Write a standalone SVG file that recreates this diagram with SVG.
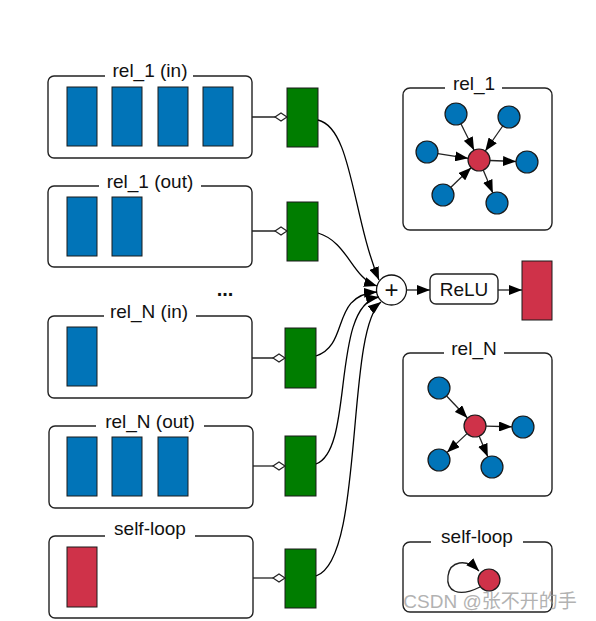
<svg xmlns="http://www.w3.org/2000/svg" width="596" height="621" viewBox="0 0 596 621">
<defs>
<marker id="arr" markerUnits="userSpaceOnUse" markerWidth="13" markerHeight="10" refX="13" refY="5" orient="auto">
<path d="M0,0 L13,5 L0,10 z" fill="#000"/>
</marker>
<marker id="dia" markerUnits="userSpaceOnUse" markerWidth="14" markerHeight="10" refX="13" refY="5" orient="auto">
<path d="M1,5 L7,1 L13,5 L7,9 z" fill="#fff" stroke="#222" stroke-width="1.2"/>
</marker>
</defs>
<style>
.box{fill:#fff;stroke:#222;stroke-width:1.4}
.gap{fill:#fff;stroke:none}
.t{font-family:"Liberation Sans",Arial,sans-serif;font-size:19px;fill:#111;text-anchor:middle}
.blue{fill:#0174b8;stroke:#1a1a1a;stroke-width:1}
.red{fill:#cf3249;stroke:#1a1a1a;stroke-width:1}
.green{fill:#007d00;stroke:#1a1a1a;stroke-width:1}
.nb{fill:#0174b8;stroke:#1a1a1a;stroke-width:1.2}
.nr{fill:#cf3249;stroke:#1a1a1a;stroke-width:1.2}
.c{fill:none;stroke:#000;stroke-width:1.3}
.ln{fill:none;stroke:#222;stroke-width:1.3}
</style>

<g id="rel1in">
<rect class="box" x="48" y="76" width="204" height="82" rx="6"/>
<rect class="gap" x="105" y="70" width="88" height="12"/>
<text class="t" x="150" y="77">rel_1 (in)</text>
<rect class="blue" x="67" y="87" width="30" height="59"/>
<rect class="blue" x="112" y="87" width="30" height="59"/>
<rect class="blue" x="158" y="87" width="30" height="59"/>
<rect class="blue" x="203" y="87" width="30" height="59"/>
</g>
<g id="rel1out">
<rect class="box" x="48" y="186" width="204" height="81" rx="6"/>
<rect class="gap" x="99" y="180" width="102" height="12"/>
<text class="t" x="150" y="188">rel_1 (out)</text>
<rect class="blue" x="67" y="197" width="30" height="59"/>
<rect class="blue" x="112" y="197" width="30" height="59"/>
</g>
<g id="dots">
<text class="t" x="225" y="296" style="font-weight:bold;font-size:20px">...</text>
</g>
<g id="relNin">
<rect class="box" x="48" y="316" width="204" height="82" rx="6"/>
<rect class="gap" x="104" y="310" width="92" height="12"/>
<text class="t" x="149" y="318">rel_N (in)</text>
<rect class="blue" x="67" y="327" width="30" height="59"/>
</g>
<g id="relNout">
<rect class="box" x="49" y="426" width="204" height="82" rx="6"/>
<rect class="gap" x="96" y="420" width="108" height="12"/>
<text class="t" x="150" y="428">rel_N (out)</text>
<rect class="blue" x="67" y="437" width="30" height="59"/>
<rect class="blue" x="112" y="437" width="30" height="59"/>
<rect class="blue" x="158" y="437" width="30" height="59"/>
</g>
<g id="selfloop">
<rect class="box" x="49" y="536" width="204" height="82" rx="6"/>
<rect class="gap" x="105" y="530" width="90" height="12"/>
<text class="t" x="150" y="535">self-loop</text>
<rect class="red" x="67" y="547" width="30" height="60"/>
</g>

<g id="green1"><rect class="green" x="287" y="88" width="31" height="59"/></g>
<g id="green2"><rect class="green" x="287" y="202" width="31" height="59"/></g>
<g id="green3"><rect class="green" x="285" y="328" width="31" height="60"/></g>
<g id="green4"><rect class="green" x="285" y="436" width="31" height="60"/></g>
<g id="green5"><rect class="green" x="285" y="549" width="31" height="59"/></g>

<g id="plus">
<circle cx="391.5" cy="290" r="15" fill="#fff" stroke="#111" stroke-width="1.3"/>
<text class="t" x="391.5" y="298" style="font-size:24px">+</text>
</g>
<g id="relu">
<rect class="box" x="430" y="274" width="68" height="30" rx="6"/>
<text class="t" x="464" y="296">ReLU</text>
</g>
<g id="out"><rect class="red" x="522" y="261" width="30" height="59"/></g>

<g id="graph1">
<rect class="box" x="403" y="88" width="149" height="142" rx="7"/>
<rect class="gap" x="445" y="82" width="57" height="12"/>
<text class="t" x="474" y="90">rel_1</text>
<g marker-end="url(#arr)">
<line class="ln" x1="460.9" y1="123.8" x2="474.1" y2="150.2"/>
<line class="ln" x1="502.7" y1="126" x2="485.3" y2="151"/>
<line class="ln" x1="437.9" y1="153.7" x2="468.1" y2="158.3"/>
<line class="ln" x1="450.9" y1="187.3" x2="471.1" y2="167.7"/>
<line class="ln" x1="490" y1="160.5" x2="516" y2="161.5"/>
<line class="ln" x1="483.2" y1="170.1" x2="492.8" y2="192.9"/>
</g>
<circle class="nb" cx="456" cy="114" r="11"/>
<circle class="nb" cx="509" cy="117" r="11"/>
<circle class="nb" cx="427" cy="152" r="11"/>
<circle class="nb" cx="527" cy="162" r="11"/>
<circle class="nb" cx="443" cy="195" r="11"/>
<circle class="nb" cx="497" cy="203" r="11"/>
<circle class="nr" cx="479" cy="160" r="11"/>
</g>
<g id="graphN">
<rect class="box" x="403" y="353" width="149" height="143" rx="7"/>
<rect class="gap" x="444" y="347" width="60" height="12"/>
<text class="t" x="474" y="355">rel_N</text>
<g marker-end="url(#arr)">
<line class="ln" x1="446.6" y1="396" x2="467.4" y2="418"/>
<line class="ln" x1="486" y1="426.2" x2="512" y2="426.8"/>
<line class="ln" x1="467" y1="433.6" x2="447" y2="452.4"/>
<line class="ln" x1="479.2" y1="436.2" x2="487.8" y2="456.8"/>
</g>
<circle class="nb" cx="439" cy="388" r="11"/>
<circle class="nb" cx="523" cy="427" r="11"/>
<circle class="nb" cx="439" cy="460" r="11"/>
<circle class="nb" cx="492" cy="467" r="11"/>
<circle class="nr" cx="475" cy="426" r="11"/>
</g>
<g id="graphSelf">
<rect class="box" x="403" y="542" width="149" height="70" rx="7"/>
<rect class="gap" x="431" y="536" width="92" height="12"/>
<text class="t" x="477" y="543">self-loop</text>
<path class="ln" d="M480,587 C458,598 446,591 448,576 C450,561 466,558 479,571" marker-end="url(#arr)"/>
<circle class="nr" cx="489" cy="580" r="11"/>
</g>

<g id="connectors">
<line class="ln" x1="252" y1="117" x2="287" y2="117" marker-end="url(#dia)"/>
<line class="ln" x1="252" y1="231" x2="287" y2="231" marker-end="url(#dia)"/>
<line class="ln" x1="252" y1="358" x2="285" y2="358" marker-end="url(#dia)"/>
<line class="ln" x1="253" y1="466" x2="285" y2="466" marker-end="url(#dia)"/>
<line class="ln" x1="253" y1="578" x2="285" y2="578" marker-end="url(#dia)"/>
<g marker-end="url(#arr)">
<path class="c" d="M318,120 C352,128 352,215 379,280"/>
<path class="c" d="M318,233 C348,242 352,278 377,286"/>
<path class="c" d="M316,356 C350,345 330,295 377,292"/>
<path class="c" d="M316,464 C355,450 330,305 379,297"/>
<path class="c" d="M316,576 C365,560 345,330 381,302"/>
<line class="ln" x1="406.5" y1="290" x2="430" y2="290"/>
<line class="ln" x1="498" y1="290" x2="522" y2="290"/>
</g>
</g>
<text x="490" y="608" style="font-family:'Liberation Sans','Noto Sans CJK SC',sans-serif;font-size:19px;fill:#999;opacity:0.75;text-anchor:middle">CSDN @张不开的手</text>
</svg>
